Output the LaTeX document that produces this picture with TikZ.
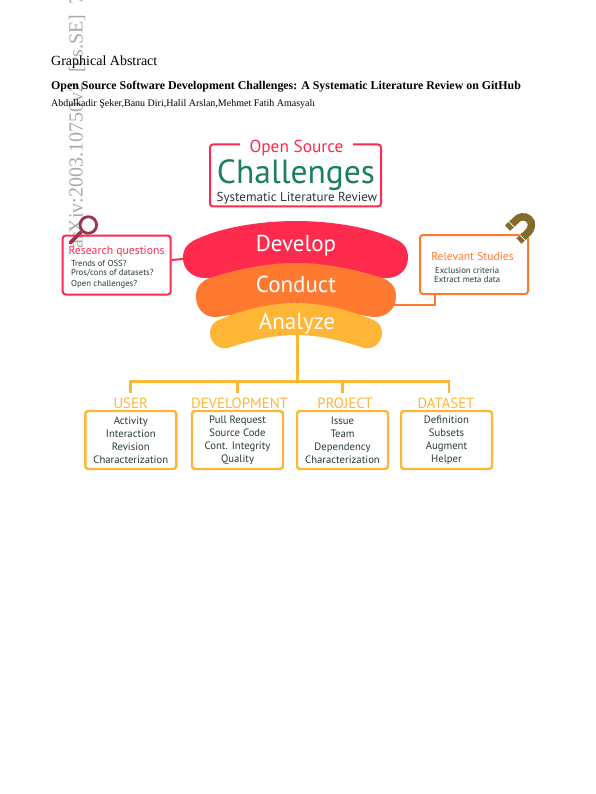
\documentclass[tikz,border=0pt]{standalone}
\usepackage{fontspec}
\setmainfont{Liberation Serif}
\newfontfamily\figfont{PT Sans}
\usepackage{xcolor}
\usetikzlibrary{positioning,calc}
\definecolor{bandred}{HTML}{FF2B4E}
\definecolor{bandorange}{HTML}{FF7A30}
\definecolor{bandyellow}{HTML}{FFB636}
\definecolor{titlegreen}{HTML}{1A8060}
\definecolor{darktext}{HTML}{27393A}
\definecolor{stampgray}{HTML}{A3ABAB}
\definecolor{lensred}{HTML}{9E3350}
\definecolor{magnetbrown}{HTML}{836B2E}
\tikzset{
  redbox/.style={draw=bandred, line width=2pt, rounded corners=3pt},
  orangebox/.style={draw=bandorange, line width=2pt, rounded corners=3pt},
  yellowbox/.style={draw=bandyellow, line width=2.4pt, rounded corners=3pt, minimum width=91pt, minimum height=58pt, align=center, inner sep=0pt, text=darktext, font=\figfont\fontsize{10.7}{13}\selectfont},
  yellowhead/.style={text=bandyellow, inner sep=0pt, font=\figfont\fontsize{14.8}{15}\selectfont},
  bandtext/.style={text=white, inner sep=0pt, font=\figfont\fontsize{23}{24}\selectfont},
  sidetext/.style={text=darktext, inner sep=0pt, anchor=west, font=\figfont\fontsize{8.7}{9}\selectfont},
  redlink/.style={bandred, line width=2pt},
  orangelink/.style={bandorange, line width=2pt},
  yellowlink/.style={bandyellow, line width=2.6pt}
}
\begin{document}
\begin{tikzpicture}[x=1pt,y=-1pt]
  \useasboundingbox (0,0) rectangle (595,794);
  \node[rotate=90, anchor=west, inner sep=0pt, text=stampgray, font=\fontsize{20}{24}\selectfont] (stamp) at (77,249) {arXiv:2003.10750v2\ \ [cs.SE]\ \ 7};
  % header lines
  \node[anchor=base west, inner sep=0pt, font=\fontsize{14}{16}\selectfont] (abstract) at (51,66) {Graphical Abstract};
  \node[anchor=base west, inner sep=0pt, font=\bfseries\fontsize{11.9}{14}\selectfont] (papertitle) at (51,89.5) {Open Source Software Development Challenges: A Systematic Literature Review on GitHub};
  \node[anchor=base west, inner sep=0pt, font=\fontsize{10}{12}\selectfont] (authors) at (51,107) {Abdulkadir Şeker,Banu Diri,Halil Arslan,Mehmet Fatih Amasyalı};
  % title box
  \node[redbox, minimum width=171pt, minimum height=62pt] (titlebox) at (295.5,175.5) {};
  \node[fill=white, inner xsep=10pt, inner ysep=1pt, text=bandred, font=\figfont\fontsize{17.3}{18}\selectfont] (opensource) at (296.5,148) {Open Source};
  \node[inner sep=0pt, text=titlegreen, font=\figfont\fontsize{33.5}{36}\selectfont] (challenges) at (296,175.5) {Challenges};
  \node[inner sep=0pt, text=darktext, font=\figfont\fontsize{13}{14}\selectfont] (slr) at (297,198.5) {Systematic Literature Review};
  % bands
  \fill[bandred] (183,258) .. controls (183,248) and (188,243) .. (197,239) .. controls (225,226) and (265,221) .. (296,221) .. controls (327,221) and (367,226) .. (395,239) .. controls (404,243) and (408,248) .. (408,258) .. controls (408,270) and (398,278) .. (387,278) -- (205,278) .. controls (193,278) and (183,270) .. (183,258) -- cycle;
  \fill[bandorange] (196,297) .. controls (196,287) and (201,281) .. (210,278) .. controls (240,268) and (270,263) .. (296,263) .. controls (322,263) and (352,268) .. (382,278) .. controls (391,281) and (396,287) .. (396,297) .. controls (396,309) and (386,318) .. (373,317) -- (296,305) -- (217,317) .. controls (205,318) and (196,309) .. (196,297) -- cycle;
  \fill[bandyellow] (210,333) .. controls (210,326) and (214,321) .. (221,319) .. controls (245,309) and (272,303) .. (296,303) .. controls (320,303) and (347,309) .. (371,319) .. controls (378,321) and (382,326) .. (382,333) .. controls (382,342) and (374,350) .. (364,348) .. controls (340,340) and (318,335) .. (296,335) .. controls (274,335) and (252,340) .. (228,348) .. controls (218,350) and (210,342) .. (210,333) -- cycle;
  \node[bandtext] (develop) at (296,245.5) {Develop};
  \node[bandtext] (conduct) at (296,284) {Conduct};
  \node[bandtext] (analyze) at (297,323.5) {Analyze};
  \coordinate (developleft) at (186,258.7);
  \coordinate (conductright) at (392,304.7);
  \coordinate (analyzefoot) at (297.5,334);
  \coordinate (trunk) at (297.5,381.5);
  % side boxes
  \node[redbox, minimum width=108pt, minimum height=59pt] (questions) at (116.7,265) {};
  \node[inner sep=0pt, text=bandred, font=\figfont\fontsize{11.7}{13}\selectfont] (questionshead) at (116.5,252) {Research questions};
  \node[sidetext] (trends) at (71,263) {Trends of OSS?};
  \node[sidetext] (proscons) at (71,273) {Pros/cons of datasets?};
  \node[sidetext] (openchal) at (71,284) {Open challenges?};
  \node[orangebox, minimum width=108pt, minimum height=59pt] (studies) at (474,264.5) {};
  \node[inner sep=0pt, text=bandorange, font=\figfont\fontsize{11.6}{13}\selectfont] (studieshead) at (472.5,256.5) {Relevant Studies};
  \node[sidetext] (exclusion) at (435,270) {Exclusion criteria};
  \node[sidetext] (extract) at (434,280) {Extract meta data};
  \draw[redlink] (questions) -- (developleft);
  \draw[orangelink] (conductright) -| ($(studies.south west)+(15.7,0)$);
  % magnifier and magnet
  \draw[lensred, line width=2.8pt] (88.3,225) circle (8.3);
  \draw[lensred, line width=3.8pt, line cap=round] (81,232) -- (70.5,242.5);
  \draw[magnetbrown, line width=7.5pt] (507.5,228) -- (518.5,218) .. controls (523,215.5) and (529,217) .. (531,222) .. controls (532,225.5) and (531,229) .. (528.5,232) -- (519,241);
  \draw[white, line width=0.7pt] (508,221) -- (514.5,227.5);
  \draw[white, line width=0.7pt] (519.5,234.8) -- (526,241);
  % groups
  \node[yellowhead] (userhead) at (130.7,403) {USER};
  \node[yellowhead] (devhead) at (239.5,403) {DEVELOPMENT};
  \node[yellowhead] (projecthead) at (345,403) {PROJECT};
  \node[yellowhead] (datasethead) at (446,403) {DATASET};
  \node[yellowbox] (userbox) at (130.8,440) {Activity\\Interaction\\Revision\\Characterization};
  \node[yellowbox] (devbox) at (237.5,440) {Pull Request\\Source Code\\Cont. Integrity\\Quality};
  \node[yellowbox] (projectbox) at (342.5,440) {Issue\\Team\\Dependency\\Characterization};
  \node[yellowbox] (datasetbox) at (446.5,440) {Definition\\Subsets\\Augment\\Helper};
  \coordinate (userdrop) at (130.7,393);
  \coordinate (devdrop) at (237.3,393);
  \coordinate (projectdrop) at (342.3,393);
  \coordinate (datasetdrop) at (449,393);
  \draw[yellowlink] (analyzefoot) -- (trunk);
  \draw[yellowlink] (trunk) -| (userdrop);
  \draw[yellowlink] (trunk) -| (devdrop);
  \draw[yellowlink] (trunk) -| (projectdrop);
  \draw[yellowlink] (trunk) -| (datasetdrop);
\end{tikzpicture}
\end{document}
